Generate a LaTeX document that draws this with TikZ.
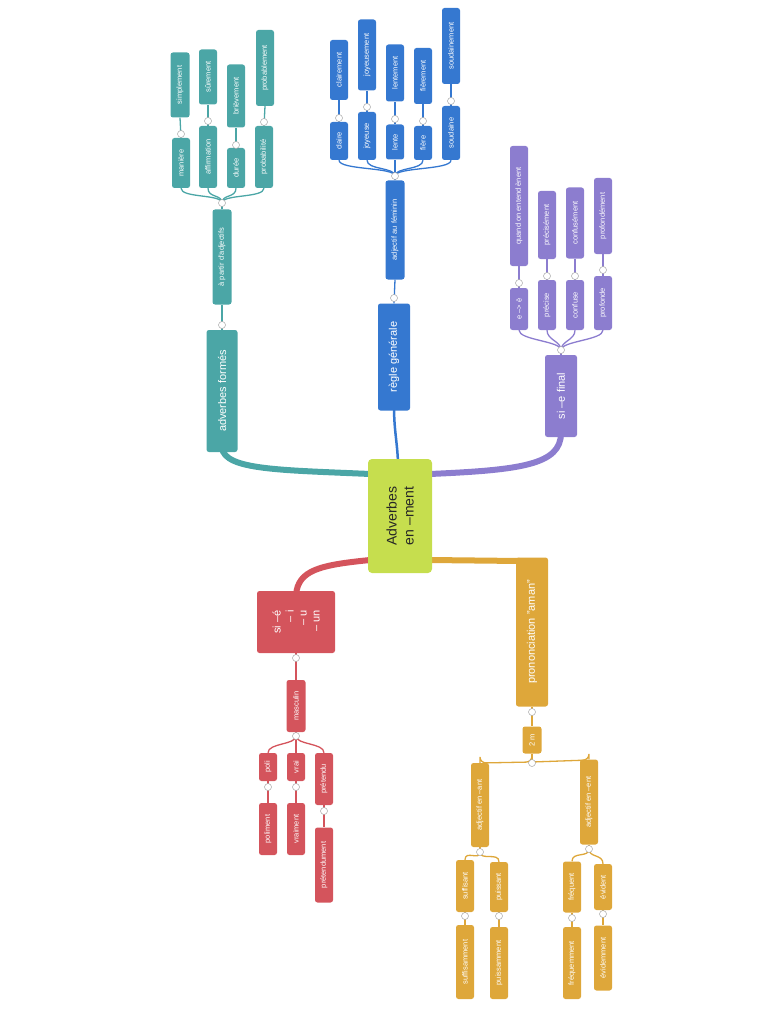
\documentclass[tikz,border=0pt]{standalone}
\usepackage{fontspec}
\setmainfont{Liberation Sans}
\definecolor{cT}{HTML}{4BA6A6}
\definecolor{cB}{HTML}{3578D0}
\definecolor{cP}{HTML}{8C7DCF}
\definecolor{cG}{HTML}{C6DE4E}
\definecolor{cR}{HTML}{D4545C}
\definecolor{cO}{HTML}{DEA73A}
\tikzset{
 bx/.style={rounded corners=2.5pt, rotate=90, text=white, inner sep=0pt, font=\fontsize{7.5}{9}\selectfont},
 big/.style={font=\fontsize{11}{13}\selectfont},
 knob/.style={circle, draw=gray!70, fill=white, inner sep=0pt, minimum size=7pt, line width=0.5pt},
 ln/.style={line width=1.3pt},
}
\newcommand{\bx}[8][]{\node[bx,#1,fill=#7,minimum width=#6,minimum height=#5] (#2) at (#3,#4) {#8};}
\newcommand{\kn}[3]{\node[knob] (#1) at (#2,#3) {};}
\newcommand{\up}[3]{\draw[ln,#1] (#2) .. controls +(0,-9) and +(0,10) .. (#3.west);}
\newcommand{\dn}[3]{\draw[ln,#1] (#2) .. controls +(0,9) and +(0,-10) .. (#3.east);}
\begin{document}
\begin{tikzpicture}[x=1pt,y=-1pt]
\useasboundingbox (0,0) rectangle (768,1024);
% main branches
\draw[cT,line width=6pt] (370,474) .. controls (280,470) and (225,470) .. (222,448);
\draw[cB,line width=2.5pt] (398,462) .. controls (397,440) and (394,430) .. (394,406);
\draw[cP,line width=6pt] (430,474) .. controls (520,470) and (561,465) .. (561,433);
\draw[cR,line width=6pt] (370,560) .. controls (320,565) and (298,570) .. (296,595);
\draw[cO,line width=6pt] (430,560) -- (520,561);
% center
\node[rounded corners=4pt,fill=cG,rotate=90,minimum width=114,minimum height=64,align=center,font=\fontsize{14}{17}\selectfont,text=black!85] (root) at (400,516) {Adverbes\\en –ment};
% ===== teal
\bx[big]{af}{222}{391}{31}{122}{cT}{adverbes formés}
\bx{pa}{222}{257}{19}{95}{cT}{à partir d'adjectifs}
\draw[ln,cT] (af.east) -- (pa.west);
\kn{k0}{222}{325}
\bx{ma}{181}{163}{18}{50}{cT}{manière}
\bx{aff}{208}{157}{18}{62}{cT}{affirmation}
\bx{du}{236}{168}{18}{40}{cT}{durée}
\bx{pr}{264}{157}{18}{62}{cT}{probabilité}
\foreach \c in {ma,aff,du,pr}{\up{cT}{222,203}{\c}}
\draw[ln,cT] (pa.east) -- (222,203);
\kn{kf1}{222}{203}
\bx{sim}{180}{85}{19}{65}{cT}{simplement}
\bx{sur}{208}{77}{18}{55}{cT}{sûrement}
\bx{bri}{236}{96}{18}{63}{cT}{brièvement}
\bx{prb}{265}{68}{18}{76}{cT}{probablement}
\draw[ln,cT] (ma.east) -- (sim.west); \kn{a1}{181}{134}
\draw[ln,cT] (aff.east) -- (sur.west); \kn{a2}{208}{121}
\draw[ln,cT] (du.east) -- (bri.west); \kn{a3}{236}{145}
\draw[ln,cT] (pr.east) -- (prb.west); \kn{a4}{264}{122}
% ===== blue
\bx[big]{rg}{394}{357}{32}{107}{cB}{règle générale}
\bx{fe}{395}{230}{19}{99}{cB}{adjectif au féminin}
\draw[ln,cB] (rg.east) -- (fe.west); \kn{b0}{394}{298}
\bx{cl}{339}{141}{18}{38}{cB}{claire}
\bx{jo}{367}{136}{18}{48}{cB}{joyeuse}
\bx{le}{395}{142}{18}{35}{cB}{lente}
\bx{fi}{423}{143}{18}{34}{cB}{fière}
\bx{so}{451}{133}{18}{54}{cB}{soudaine}
\foreach \c in {cl,jo,le,fi,so}{\up{cB}{395,176}{\c}}
\draw[ln,cB] (fe.east) -- (395,176); \kn{b1}{395}{176}
\bx{cle}{339}{70}{18}{60}{cB}{clairement}
\bx{joe}{367}{55}{18}{71}{cB}{joyeusement}
\bx{lee}{395}{73}{18}{57}{cB}{lentement}
\bx{fie}{423}{76}{18}{56}{cB}{fièrement}
\bx{soe}{451}{46}{18}{76}{cB}{soudainement}
\draw[ln,cB] (cl.east) -- (cle.west); \kn{b2}{339}{118}
\draw[ln,cB] (jo.east) -- (joe.west); \kn{b3}{367}{107}
\draw[ln,cB] (le.east) -- (lee.west); \kn{b4}{395}{119}
\draw[ln,cB] (fi.east) -- (fie.west); \kn{b5}{423}{121}
\draw[ln,cB] (so.east) -- (soe.west); \kn{b6}{451}{101}
% ===== purple
\bx[big]{sf}{561}{396}{32}{82}{cP}{si –e final}
\bx{ee}{519}{309}{18}{42}{cP}{e –> è}
\bx{pc}{547}{305}{18}{50}{cP}{précise}
\bx{cf}{575}{305}{18}{50}{cP}{confuse}
\bx{pf}{603}{303}{18}{54}{cP}{profonde}
\foreach \c in {ee,pc,cf,pf}{\up{cP}{561,350}{\c}}
\draw[ln,cP] (sf.east) -- (561,350); \kn{p0}{561}{350}
\bx{qe}{519}{206}{18}{120}{cP}{quand on entend ènent}
\bx{pce}{547}{225}{18}{68}{cP}{précisément}
\bx{cfe}{575}{223}{18}{71}{cP}{confusément}
\bx{pfe}{603}{216}{18}{76}{cP}{profondément}
\draw[ln,cP] (ee.east) -- (qe.west); \kn{p1}{519}{283}
\draw[ln,cP] (pc.east) -- (pce.west); \kn{p2}{547}{276}
\draw[ln,cP] (cf.east) -- (cfe.west); \kn{p3}{575}{276}
\draw[ln,cP] (pf.east) -- (pfe.west); \kn{p4}{603}{270}
% ===== red
\bx[big,align=right]{si}{296}{622}{78}{62}{cR}{si –é\\– i\\– u\\– un}
\bx{mc}{296}{706}{19}{52}{cR}{masculin}
\draw[ln,cR] (si.west) -- (mc.east); \kn{r0}{296}{658}
\bx{po}{268}{767}{18}{28}{cR}{poli}
\bx{vr}{296}{767}{18}{28}{cR}{vrai}
\bx{pt}{324}{779}{18}{52}{cR}{prétendu}
\foreach \c in {po,vr,pt}{\dn{cR}{296,736}{\c}}
\draw[ln,cR] (mc.west) -- (296,736); \kn{r1}{296}{736}
\bx{poe}{268}{829}{18}{52}{cR}{poliment}
\bx{vre}{296}{829}{18}{52}{cR}{vraiment}
\bx{pte}{324}{865}{18}{75}{cR}{prétendument}
\draw[ln,cR] (po.west) -- (poe.east); \kn{r2}{268}{787}
\draw[ln,cR] (vr.west) -- (vre.east); \kn{r3}{296}{787}
\draw[ln,cR] (pt.west) -- (pte.east); \kn{r4}{324}{811}
% ===== orange
\bx[big]{pn}{532}{632}{32}{149}{cO}{prononciation "aman"}
\bx{dm}{532}{740}{19}{27}{cO}{2 m}
\draw[ln,cO] (pn.west) -- (dm.east); \kn{o0}{532}{712}
\bx{at}{480}{805}{18}{84}{cO}{adjectif en –ant}
\bx{et}{589}{802}{18}{85}{cO}{adjectif en –ent}
\draw[ln,cO,rounded corners=6pt] (532,762) -- (532,762) -- (480,763) -- (at.east);
\draw[ln,cO,rounded corners=6pt] (532,762) -- (589,760) -- (et.east);
\draw[ln,cO] (dm.west) -- (532,763); \kn{o1}{532}{763}
\bx{su}{465}{886}{18}{52}{cO}{suffisant}
\bx{pu}{499}{887}{18}{50}{cO}{puissant}
\bx{fr}{572}{887}{18}{51}{cO}{fréquent}
\bx{ev}{603}{887}{18}{46}{cO}{évident}
\foreach \c in {su,pu}{\dn{cO}{480,852}{\c}}
\foreach \c in {fr,ev}{\dn{cO}{589,849}{\c}}
\draw[ln,cO] (at.west) -- (480,852); \kn{o2}{480}{852}
\draw[ln,cO] (et.west) -- (589,849); \kn{o3}{589}{849}
\bx{sue}{465}{962}{18}{74}{cO}{suffisamment}
\bx{pue}{499}{963}{18}{72}{cO}{puissamment}
\bx{fre}{572}{963}{18}{72}{cO}{fréquemment}
\bx{eve}{603}{958}{18}{65}{cO}{évidemment}
\draw[ln,cO] (su.west) -- (sue.east); \kn{o4}{465}{916}
\draw[ln,cO] (pu.west) -- (pue.east); \kn{o5}{499}{916}
\draw[ln,cO] (fr.west) -- (fre.east); \kn{o6}{572}{918}
\draw[ln,cO] (ev.west) -- (eve.east); \kn{o7}{603}{914}
\end{tikzpicture}
\end{document}
